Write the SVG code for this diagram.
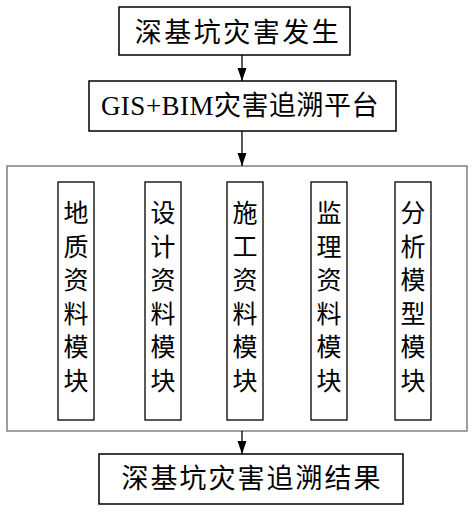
<svg xmlns="http://www.w3.org/2000/svg" width="474" height="512" viewBox="0 0 474 512">
<defs>
<marker id="ah" markerUnits="userSpaceOnUse" markerWidth="13" markerHeight="10" refX="13" refY="5" orient="auto">
<path d="M0,0.5 L13,5 L0,9.5 z" fill="#000"/>
</marker>
<style>
.box{fill:#fff;stroke:#000;stroke-width:1.5}
.outer{fill:#fff;stroke:#808080;stroke-width:1.5}
.inner{fill:#fff;stroke:#000;stroke-width:1.3}
.t{font-family:"Liberation Serif","Noto Sans CJK SC",serif;font-size:27px;fill:#000;text-anchor:middle}
.c{font-family:"Noto Sans CJK SC",sans-serif;font-size:25px;fill:#000;text-anchor:middle}
.edge{stroke:#000;stroke-width:1.3;fill:none}
</style>
</defs>
<rect width="474" height="512" fill="#fff"/>
<g id="n_outer"><rect class="outer" x="7" y="166" width="460" height="265"/></g>
<g id="n1"><rect class="box" x="119" y="7" width="231" height="48"/>
<text class="t" x="238" y="42" letter-spacing="2.5">深基坑灾害发生</text></g>
<g id="n2"><rect class="box" x="89" y="81" width="307" height="50"/>
<text class="t" x="240" y="115" letter-spacing="0.5">GIS+BIM灾害追溯平台</text></g>
<g id="m1"><rect class="inner" x="58" y="182" width="36" height="238"/>
<text class="c"><tspan x="76" y="222">地</tspan><tspan x="76" y="255.6">质</tspan><tspan x="76" y="289.2">资</tspan><tspan x="76" y="322.8">料</tspan><tspan x="76" y="356.4">模</tspan><tspan x="76" y="390">块</tspan></text></g>
<g id="m2"><rect class="inner" x="145" y="182" width="36" height="238"/>
<text class="c"><tspan x="163" y="222">设</tspan><tspan x="163" y="255.6">计</tspan><tspan x="163" y="289.2">资</tspan><tspan x="163" y="322.8">料</tspan><tspan x="163" y="356.4">模</tspan><tspan x="163" y="390">块</tspan></text></g>
<g id="m3"><rect class="inner" x="227" y="182" width="36" height="238"/>
<text class="c"><tspan x="245" y="222">施</tspan><tspan x="245" y="255.6">工</tspan><tspan x="245" y="289.2">资</tspan><tspan x="245" y="322.8">料</tspan><tspan x="245" y="356.4">模</tspan><tspan x="245" y="390">块</tspan></text></g>
<g id="m4"><rect class="inner" x="311" y="182" width="36" height="238"/>
<text class="c"><tspan x="329" y="222">监</tspan><tspan x="329" y="255.6">理</tspan><tspan x="329" y="289.2">资</tspan><tspan x="329" y="322.8">料</tspan><tspan x="329" y="356.4">模</tspan><tspan x="329" y="390">块</tspan></text></g>
<g id="m5"><rect class="inner" x="395" y="182" width="36" height="238"/>
<text class="c"><tspan x="413" y="222">分</tspan><tspan x="413" y="255.6">析</tspan><tspan x="413" y="289.2">模</tspan><tspan x="413" y="322.8">型</tspan><tspan x="413" y="356.4">模</tspan><tspan x="413" y="390">块</tspan></text></g>
<g id="n4"><rect class="box" x="99" y="454" width="304" height="50"/>
<text class="t" x="252" y="488" letter-spacing="2">深基坑灾害追溯结果</text></g>
<g id="connectors">
<line class="edge" x1="242" y1="55" x2="242" y2="81" marker-end="url(#ah)"/>
<line class="edge" x1="242" y1="131" x2="242" y2="166" marker-end="url(#ah)"/>
<line class="edge" x1="242" y1="431" x2="242" y2="454" marker-end="url(#ah)"/>
</g>
</svg>
